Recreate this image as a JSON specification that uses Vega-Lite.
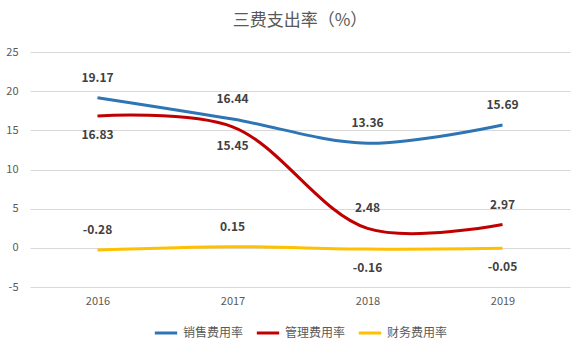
{
  "$schema": "https://vega.github.io/schema/vega-lite/v6.json",
  "width": 584,
  "height": 351,
  "autosize": {"type": "fit", "contains": "padding"},
  "padding": {"left": 5, "right": 14, "top": 12, "bottom": 12},
  "background": "white",
  "config": {
    "font": "Noto Sans CJK SC",
    "view": {"stroke": null},
    "legend": {"layout": {"bottom": {"anchor": "middle"}}}
  },
  "title": {
    "text": "三费支出率（%）",
    "fontSize": 17,
    "fontWeight": "normal",
    "color": "#595959",
    "offset": 16
  },
  "data": {
    "values": [
      {"year": "2016", "series": "销售费用率", "value": 19.17},
      {"year": "2017", "series": "销售费用率", "value": 16.44},
      {"year": "2018", "series": "销售费用率", "value": 13.36},
      {"year": "2019", "series": "销售费用率", "value": 15.69},
      {"year": "2016", "series": "管理费用率", "value": 16.83},
      {"year": "2017", "series": "管理费用率", "value": 15.45},
      {"year": "2018", "series": "管理费用率", "value": 2.48},
      {"year": "2019", "series": "管理费用率", "value": 2.97},
      {"year": "2016", "series": "财务费用率", "value": -0.28},
      {"year": "2017", "series": "财务费用率", "value": 0.15},
      {"year": "2018", "series": "财务费用率", "value": -0.16},
      {"year": "2019", "series": "财务费用率", "value": -0.05}
    ]
  },
  "encoding": {
    "x": {
      "field": "year", "type": "ordinal", "title": null,
      "scale": {"type": "point", "padding": 0.5},
      "axis": {"labelAngle": 0, "domain": false, "ticks": false, "labelColor": "#595959", "labelFontSize": 11, "labelPadding": 8}
    },
    "y": {
      "field": "value", "type": "quantitative", "title": null,
      "scale": {"domain": [-5, 25], "nice": false},
      "axis": {"values": [-5, 0, 5, 10, 15, 20, 25], "labelExpr": "replace(datum.label, '−', '-')", "domain": false, "ticks": false, "gridColor": "#D9D9D9", "labelColor": "#595959", "labelFontSize": 11, "labelPadding": 12}
    }
  },
  "layer": [
    {
      "mark": {"type": "line", "interpolate": "catmull-rom", "strokeWidth": 3},
      "encoding": {
        "color": {
          "field": "series", "type": "nominal", "title": null,
          "scale": {"domain": ["销售费用率", "管理费用率", "财务费用率"], "range": ["#2E75B6", "#C00000", "#FFC000"]},
          "legend": {"orient": "bottom", "direction": "horizontal", "symbolType": "stroke", "symbolStrokeWidth": 3, "symbolSize": 500, "labelFontSize": 12, "labelColor": "#595959", "columnPadding": 6, "offset": 14}
        }
      }
    },
    {
      "transform": [
        {"filter": "datum.series == '销售费用率' || (datum.series == '管理费用率' && (datum.year == '2018' || datum.year == '2019')) || (datum.series == '财务费用率' && (datum.year == '2016' || datum.year == '2017'))"},
        {"calculate": "replace(format(datum.value, '.2f'), '−', '-')", "as": "label"}
      ],
      "mark": {"type": "text", "dy": -20, "fontWeight": "bold", "fontSize": 12, "color": "#404040", "baseline": "middle"},
      "encoding": {"text": {"field": "label", "type": "nominal"}}
    },
    {
      "transform": [
        {"filter": "(datum.series == '管理费用率' && (datum.year == '2016' || datum.year == '2017')) || (datum.series == '财务费用率' && (datum.year == '2018' || datum.year == '2019'))"},
        {"calculate": "replace(format(datum.value, '.2f'), '−', '-')", "as": "label"}
      ],
      "mark": {"type": "text", "dy": 19, "fontWeight": "bold", "fontSize": 12, "color": "#404040", "baseline": "middle"},
      "encoding": {"text": {"field": "label", "type": "nominal"}}
    }
  ]
}
